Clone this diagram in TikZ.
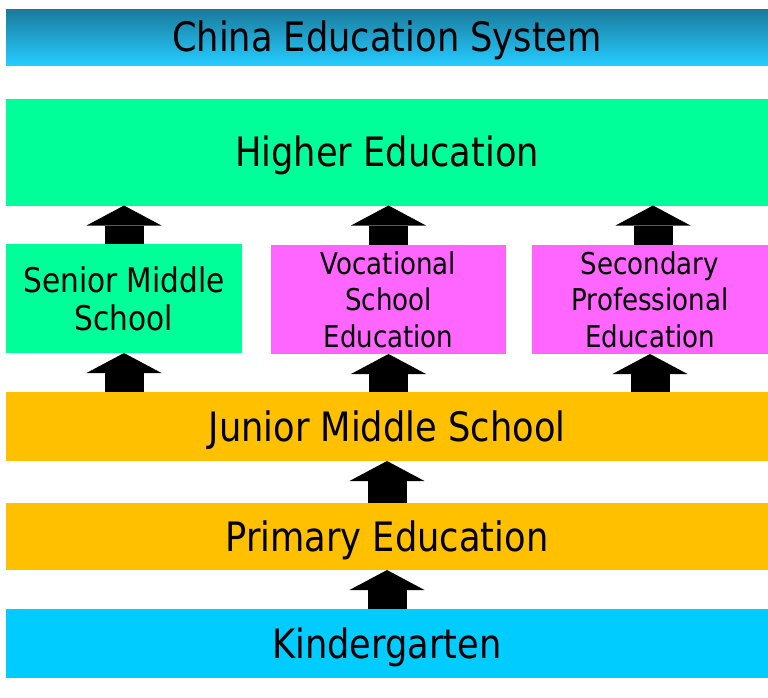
\documentclass[tikz,border=0pt]{standalone}
\usepackage{fontspec}
\setmainfont{DejaVu Sans}[FakeStretch=0.87]
\usetikzlibrary{arrows.meta}
\definecolor{topdark}{HTML}{1A7A9C}
\definecolor{toplight}{HTML}{25CCFF}
\definecolor{hgreen}{HTML}{00FF99}
\definecolor{pinkc}{HTML}{FF66FF}
\definecolor{orangec}{HTML}{FFC000}
\definecolor{kcyan}{HTML}{00CCFF}
\begin{document}
\begin{tikzpicture}[x=1pt,y=-1pt,
  box/.style={inner sep=0pt, outer sep=0pt, anchor=center, text=black},
  bar/.style={box, minimum width=762pt},
  big/.style={font=\fontsize{40.5}{44}\selectfont, text height=29pt, text depth=0pt},
  midbox/.style={box, minimum height=109pt, align=center},
  up/.style={line width=39pt, draw=black, -{Triangle[width=75pt,length=20pt,line width=0pt]}}
]
\useasboundingbox (0,0) rectangle (768,697);
\fill[white] (0,0) rectangle (768,697);

\node[bar, minimum height=56pt, top color=topdark, bottom color=toplight, big] (title) at (387,37) {China Education System};
\node[bar, minimum height=107pt, fill=hgreen, big] (higher) at (387,152) {Higher Education};

\node[midbox, minimum width=236pt, fill=hgreen, font=\fontsize{34}{38}\selectfont] (senior) at (124,298.5) {Senior Middle\\School};
\node[midbox, minimum width=235pt, fill=pinkc, font=\fontsize{30}{36.5}\selectfont] (voc) at (388.5,299.5) {Vocational\\School\\Education};
\node[midbox, minimum width=236pt, fill=pinkc, font=\fontsize{30}{36.5}\selectfont] (sec) at (650,299.5) {Secondary\\Professional\\Education};

\node[bar, minimum height=69pt, fill=orangec, big] (junior) at (387,426.5) {Junior Middle School};
\node[bar, minimum height=67pt, fill=orangec, big] (primary) at (387,536.5) {Primary Education};
\node[bar, minimum height=69pt, fill=kcyan, big] (kinder) at (387,643.5) {Kindergarten};

\draw[up] (senior.north) -- (senior.north |- higher.south);
\draw[up] (voc.north) -- (voc.north |- higher.south);
\draw[up] ([xshift=3pt]sec.north) -- ([xshift=3pt]sec.north |- higher.south);
\draw[up] (junior.north -| senior) -- (senior.south);
\draw[up] (junior.north -| voc) -- (voc.south);
\draw[up] (junior.north -| sec) -- (sec.south);
\draw[up] (primary.north) -- (junior.south);
\draw[up] (kinder.north) -- (primary.south);
\end{tikzpicture}
\end{document}
